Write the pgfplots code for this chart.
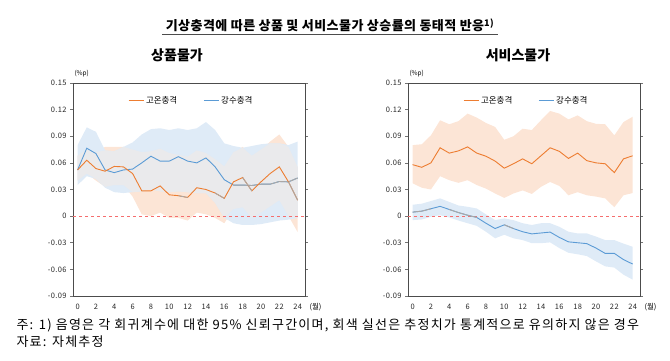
\documentclass[border=0pt]{standalone}
\usepackage{pgfplots}
\pgfplotsset{compat=1.18}
\usepackage{pgfplotstable}
\usepgfplotslibrary{fillbetween}
\usepackage{fontspec}
\setmainfont{Noto Sans CJK KR}
\newfontfamily\lsfont[LetterSpace=9.5]{Noto Sans CJK KR}
\newfontfamily\ttlfont[LetterSpace=3.5]{Noto Sans CJK KR}
\newfontfamily\tkfont[LetterSpace=5]{Noto Sans CJK KR}
\definecolor{oline}{RGB}{237,125,49}
\definecolor{bline}{RGB}{91,155,213}
\definecolor{gline}{RGB}{172,168,165}
\definecolor{oband}{RGB}{252,229,214}
\definecolor{bband}{RGB}{223,235,247}
\definecolor{gband}{RGB}{234,234,236}
\definecolor{zline}{RGB}{245,110,110}

\pgfplotstableread{
x go gou gol bl blu bll ovu ovl
0 0.052 0.068 0.040 0.052 0.080 0.035 0.068 0.040
1 0.063 0.075 0.048 0.0765 0.100 0.045 0.075 0.048
2 0.0536 0.072 0.040 0.0705 0.095 0.042 0.072 0.042
3 0.0506 0.078 0.033 0.052 0.074 0.032 0.074 0.033
4 0.056 0.078 0.035 0.049 0.073 0.027 0.073 0.035
5 0.0555 0.078 0.035 0.052 0.078 0.026 0.078 0.035
6 0.048 0.075 0.022 0.053 0.083 0.027 0.075 0.027
7 0.0285 0.072 0.002 0.060 0.092 0.028 0.072 0.028
8 0.0285 0.073 0.000 0.0675 0.098 0.030 0.073 0.030
9 0.034 0.076 0.004 0.062 0.099 0.028 0.076 0.028
10 0.024 0.071 -0.002 0.062 0.097 0.027 0.071 0.027
11 0.023 0.069 -0.002 0.067 0.099 0.028 0.069 0.028
12 0.021 0.067 -0.005 0.062 0.097 0.027 0.067 0.027
13 0.032 0.074 0.004 0.060 0.099 0.026 0.074 0.026
14 0.030 0.071 0.002 0.0656 0.106 0.026 0.071 0.026
15 0.026 0.064 -0.002 0.0555 0.097 0.015 0.064 0.015
16 0.020 0.056 -0.008 0.041 0.082 -0.002 0.056 -0.002
17 0.0386 0.072 0.008 0.035 0.079 -0.008 0.072 0.008
18 0.0435 0.078 0.010 0.035 0.077 -0.010 0.077 0.010
19 0.0285 0.068 -0.002 0.0345 0.079 -0.010 0.068 -0.002
20 0.0386 0.075 0.004 0.036 0.081 -0.009 0.075 0.004
21 0.048 0.084 0.011 0.036 0.082 -0.007 0.082 0.011
22 0.0555 0.092 0.018 0.039 0.082 -0.005 0.082 0.018
23 0.0386 0.078 0.000 0.0386 0.080 -0.004 0.078 0.000
24 0.018 0.055 -0.018 0.043 0.084 -0.002 0.055 -0.002
}\L

\pgfplotstableread{
x go gou gol bl blu bll
0 0.058 0.080 0.037 0.0045 0.0128 -0.0045
1 0.055 0.081 0.032 0.0056 0.014 -0.0038
2 0.060 0.091 0.030 0.0083 0.017 -0.0008
3 0.077 0.108 0.045 0.011 0.020 0.001
4 0.071 0.1035 0.0405 0.0075 0.016 -0.0015
5 0.0735 0.107 0.0375 0.004 0.012 -0.005
6 0.078 0.1155 0.0405 0.001 0.0105 -0.008
7 0.071 0.111 0.035 -0.0015 0.0086 -0.011
8 0.0675 0.105 0.031 -0.008 0.002 -0.0176
9 0.062 0.1005 0.0255 -0.014 -0.0045 -0.025
10 0.054 0.086 0.0205 -0.0098 -0.0026 -0.021
11 0.059 0.090 0.0255 -0.014 -0.0045 -0.025
12 0.0645 0.0985 0.029 -0.0176 -0.008 -0.027
13 0.059 0.097 0.025 -0.020 -0.010 -0.0305
14 0.068 0.108 0.033 -0.019 -0.008 -0.0305
15 0.077 0.1185 0.0385 -0.018 -0.008 -0.0296
16 0.073 0.1155 0.034 -0.024 -0.012 -0.036
17 0.065 0.109 0.0235 -0.029 -0.0176 -0.0413
18 0.071 0.1135 0.027 -0.030 -0.0195 -0.043
19 0.0625 0.107 0.0235 -0.031 -0.0195 -0.045
20 0.060 0.104 0.022 -0.036 -0.023 -0.051
21 0.059 0.1035 0.020 -0.042 -0.027 -0.0566
22 0.049 0.091 0.010 -0.042 -0.027 -0.058
23 0.0645 0.106 0.0235 -0.049 -0.031 -0.066
24 0.068 0.112 0.026 -0.054 -0.0345 -0.0716
}\R

\pgfplotsset{
  myaxis/.style={
    scale only axis, width=232pt, height=213pt, anchor=south west,
    xmin=-0.5, xmax=24.8, ymin=-0.09, ymax=0.15,
    xtick={0,2,4,6,8,10,12,14,16,18,20,22,24},
    xticklabels={0,2,4,6,8,10,12,14,16,18,20,22,24},
    ytick={-0.09,-0.06,-0.03,0,0.03,0.06,0.09,0.12,0.15},
    yticklabels={-0.09,-0.06,-0.03,0,0.03,0.06,0.09,0.12,0.15},
    tick label style={font=\tkfont\fontsize{7.5}{8}\selectfont, text=black!85},
    xtick style={draw=none}, tick align=outside,
    ytick style={draw=black!55, line width=0.5pt}, major tick length=3pt,
    axis line style={draw=black!70, line width=0.6pt},
    xticklabel style={yshift=-2pt},
    legend style={draw=none, fill=none, at={(0.51,0.917)}, anchor=center,
      font=\fontsize{8.5}{9}\selectfont, legend columns=2,
      /tikz/every even column/.append style={column sep=24pt}},
    legend image code/.code={\draw[##1] (0pt,0pt) -- (15pt,0pt);},
  }
}

\begin{document}
\begin{tikzpicture}
\path (0,0) rectangle (670pt,361pt);

% titles
\node[font=\ttlfont\fontsize{13}{14}\selectfont\bfseries] (T) at (330pt,336pt) {기상충격에 따른 상품 및 서비스물가 상승률의 동태적 반응\textsuperscript{1)}};
\draw[black!70, line width=0.8pt] ([yshift=1pt]T.south west) -- ([yshift=1pt]T.south east);
\node[font=\fontsize{14}{15}\selectfont\bfseries] at (177pt,306pt) {상품물가};
\node[font=\fontsize{14}{15}\selectfont\bfseries] at (518pt,306pt) {서비스물가};

% footnotes
\node[anchor=west, font=\lsfont\fontsize{13}{14}\selectfont] at (13pt,36pt) {주: 1) 음영은 각 회귀계수에 대한 95\% 신뢰구간이며, 회색 실선은 추정치가 통계적으로 유의하지 않은 경우};
\node[anchor=west, font=\lsfont\fontsize{13}{14}\selectfont] at (13pt,19pt) {자료: 자체추정};

% ---- left axis
\begin{axis}[myaxis, at={(73pt,65pt)}]
\addlegendimage{oline, line width=0.9pt}\addlegendentry{고온충격}
\addlegendimage{bline, line width=0.9pt}\addlegendentry{강수충격}
\addplot[name path=ou, draw=none, forget plot] table[x=x,y=gou]{\L};
\addplot[name path=ol, draw=none, forget plot] table[x=x,y=gol]{\L};
\addplot[fill=oband, draw=none, forget plot] fill between[of=ou and ol];
\addplot[name path=bu, draw=none, forget plot] table[x=x,y=blu]{\L};
\addplot[name path=bl, draw=none, forget plot] table[x=x,y=bll]{\L};
\addplot[fill=bband, draw=none, forget plot] fill between[of=bu and bl];
\addplot[name path=vu, draw=none, forget plot] table[x=x,y=ovu]{\L};
\addplot[name path=vl, draw=none, forget plot] table[x=x,y=ovl]{\L};
\addplot[fill=gband, draw=none, forget plot] fill between[of=vu and vl];
\addplot[zline, dashed, line width=0.5pt, forget plot] coordinates {(-0.5,0) (24.8,0)};
\addplot[bline, line width=0.9pt, forget plot] table[x=x,y=bl]{\L};
\addplot[gline, line width=0.9pt, forget plot] coordinates {(17,0.035) (18,0.035) (19,0.0345) (20,0.036) (21,0.036) (22,0.039) (23,0.0386) (24,0.043)};
\addplot[oline, line width=0.9pt, forget plot] table[x=x,y=go]{\L};
\addplot[gline, line width=0.9pt, forget plot] coordinates {(11,0.023) (12,0.021)};
\addplot[gline, line width=0.9pt, forget plot] coordinates {(15,0.026) (16,0.020)};
\addplot[gline, line width=0.9pt, forget plot] coordinates {(18,0.0435) (19,0.0285)};
\addplot[gline, line width=0.9pt, forget plot] coordinates {(23,0.0386) (24,0.018)};
\end{axis}
\node[anchor=south west, font=\fontsize{6.5}{7}\selectfont] at (71pt,280pt) {(\%p)};
\node[anchor=west, font=\fontsize{7.5}{8}\selectfont] at (306pt,54pt) {(월)};

% ---- right axis
\begin{axis}[myaxis, at={(408pt,65pt)}]
\addlegendimage{oline, line width=0.9pt}\addlegendentry{고온충격}
\addlegendimage{bline, line width=0.9pt}\addlegendentry{강수충격}
\addplot[name path=ou, draw=none, forget plot] table[x=x,y=gou]{\R};
\addplot[name path=ol, draw=none, forget plot] table[x=x,y=gol]{\R};
\addplot[fill=oband, draw=none, forget plot] fill between[of=ou and ol];
\addplot[name path=bu, draw=none, forget plot] table[x=x,y=blu]{\R};
\addplot[name path=bl, draw=none, forget plot] table[x=x,y=bll]{\R};
\addplot[fill=bband, draw=none, forget plot] fill between[of=bu and bl];
\addplot[zline, dashed, line width=0.5pt, forget plot] coordinates {(-0.5,0) (24.8,0)};
\addplot[oline, line width=0.9pt, forget plot] table[x=x,y=go]{\R};
\addplot[bline, line width=0.9pt, forget plot] table[x=x,y=bl]{\R};
\addplot[gline, line width=0.9pt, forget plot] coordinates {(0,0.0045) (1,0.0056) (2,0.0083)};
\addplot[gline, line width=0.9pt, forget plot] coordinates {(4,0.0075) (5,0.004) (6,0.001) (7,-0.0015)};
\addplot[gline, line width=0.9pt, forget plot] coordinates {(10,-0.0098) (11,-0.014)};
\end{axis}
\node[anchor=south west, font=\fontsize{6.5}{7}\selectfont] at (406pt,280pt) {(\%p)};
\node[anchor=west, font=\fontsize{7.5}{8}\selectfont] at (641pt,54pt) {(월)};
\end{tikzpicture}
\end{document}
